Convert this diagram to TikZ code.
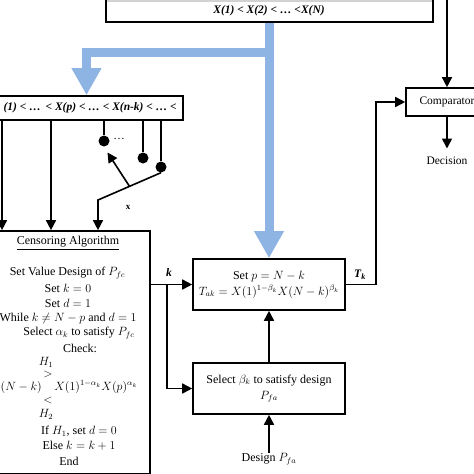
\documentclass[tikz,border=0pt]{standalone}
\usepackage{fontspec}
\setmainfont{Liberation Serif}
\usetikzlibrary{arrows.meta,calc}
\definecolor{flowblue}{RGB}{141,180,226}
\begin{document}
\begin{tikzpicture}[x=1pt,y=-1pt,
  box/.style={draw=black, line width=1.6pt, inner sep=0pt, fill=white},
  conn/.style={line width=1.6pt, -{Triangle[length=10pt 0,width=10pt 0]}},
  plain/.style={line width=1.6pt},
  bluearrow/.style={draw=flowblue, line width=9pt, -{Triangle[length=27pt 0,width=28pt 0]}},
  txt/.style={font=\fontsize{12}{15}\selectfont, inner sep=0pt},
  small/.style={font=\fontsize{11.5}{14}\selectfont, inner sep=0pt},
  bi/.style={font=\fontsize{11.5}{14}\selectfont\bfseries\itshape, inner sep=0pt},
  dot/.style={circle, fill=black, inner sep=0pt, minimum size=11pt}]
\useasboundingbox (0,0) rectangle (474,474);

% boxes
\node[box, minimum width=327pt, minimum height=42pt] (top) at (269.5,1) {};
\draw[gray!35, line width=2pt] (107,1.2) -- (432,1.2);
\node[bi] (toptext) at (269,11) {X(1) < X(2) < … <X(N)};

\node[box, minimum width=193pt, minimum height=24pt] (sorted) at (86.5,108) {};
\node[bi, anchor=east] (sortedtext) at (177,108) {(1) < …\, < X(p) < … < X(n-k) < … <};

\node[box, minimum width=160pt, minimum height=242.5pt] (cens) at (70,352.2) {};

\node[box, minimum width=152pt, minimum height=51pt, align=center, txt] (setp) at (269,284.5)
  {Set $p=N-k$\\[1pt] $T_{ak}=X(1)^{1-\beta_k}X(N-k)^{\beta_k}$};
\node[box, minimum width=152pt, minimum height=51pt, align=center, txt] (selb) at (269,388.5)
  {Select $\beta_k$ to satisfy design\\[1pt] $P_{fa}$};
\node[box, minimum width=82pt, minimum height=28pt, small] (comp) at (447,102) {Comparator};
\node[small] (dec) at (447,161) {Decision};
\node[txt] (design) at (269,459) {Design $P_{fa}$};

% blue arrows
\draw[bluearrow] (top.south -| setp.north) -- (setp.north);
\coordinate (bsplit) at (269,52);
\draw[bluearrow] (bsplit) -| (sorted.north);

% right side
\coordinate (rtop) at (447,-5);
\draw[conn] (rtop) -- (comp.north);
\coordinate (decin) at (447,148.5);
\draw[conn] (comp.south) -- (decin);
\draw[conn] (setp.east) -- ++(30,0) |- (comp.west);
\node[bi] (tk) at (360,275) {T\textsubscript{k}};

% censoring outputs
\draw[conn] (cens.east |- setp.west) -- (setp.west);
\coordinate (kb) at (167,284.5);
\draw[conn] (kb) |- (selb.west);
\node[bi] (klab) at (169,273) {k};
\draw[conn] (selb.north) -- (setp.south);
\draw[conn] (design.north) -- (selb.south);

% sorted outputs
\coordinate (c1) at (2,0);
\coordinate (c2) at (51,0);
\draw[conn] (sorted.south -| c1) -- (cens.north -| c1);
\draw[conn] (sorted.south -| c2) -- (cens.north -| c2);
\node[dot] (d1) at (104,141) {};
\node[dot] (d2) at (143,158) {};
\node[dot] (d3) at (161,167) {};
\draw[plain] (sorted.south -| d1) -- (d1);
\draw[plain] (sorted.south -| d2) -- (d2);
\draw[plain] (sorted.south -| d3) -- (d3);
\node[small] (dots) at (119,139) {…};
\coordinate (swk) at (98,200);
\draw[conn] (d3.south) -- (swk) -- (cens.north -| swk);
\coordinate (swa) at ($(d3.south)!0.5!(swk)$);
\coordinate (swt) at (107.5,152.5);
\draw[conn] (swa) -- (swt);
\node[font=\fontsize{9}{10}\selectfont\bfseries, inner sep=0pt] (xlab) at (128,207) {x};

% censoring algorithm text
\node[txt] (t0) at (68,243) {\underline{Censoring Algorithm}};
\node[txt] (t1) at (67.5,273) {Set Value Design of $P_{fc}$};
\node[txt] (t2) at (68,288) {Set $k=0$};
\node[txt] (t3) at (68,303) {Set $d=1$};
\node[txt] (t4) at (68,318) {While $k\neq N-p$ and $d=1$};
\node[txt] (t5) at (79,333) {Select $\alpha_k$ to satisfy $P_{fc}$};
\node[txt] (t6) at (80,348) {Check:};
\node[txt] (t7) at (46,362) {$H_1$};
\node[txt] (t8) at (48,374) {$>$};
\node[txt, anchor=west] (t9) at (0.5,387) {$(N-k)$};
\node[txt] (t10) at (96,387) {$X(1)^{1-\alpha_k}X(p)^{\alpha_k}$};
\node[txt] (t11) at (48,400) {$<$};
\node[txt] (t12) at (46,414) {$H_2$};
\node[txt] (t13) at (79,431) {If $H_1$, set $d=0$};
\node[txt] (t14) at (79,446) {Else $k=k+1$};
\node[txt] (t15) at (69,461) {End};
\end{tikzpicture}
\end{document}
